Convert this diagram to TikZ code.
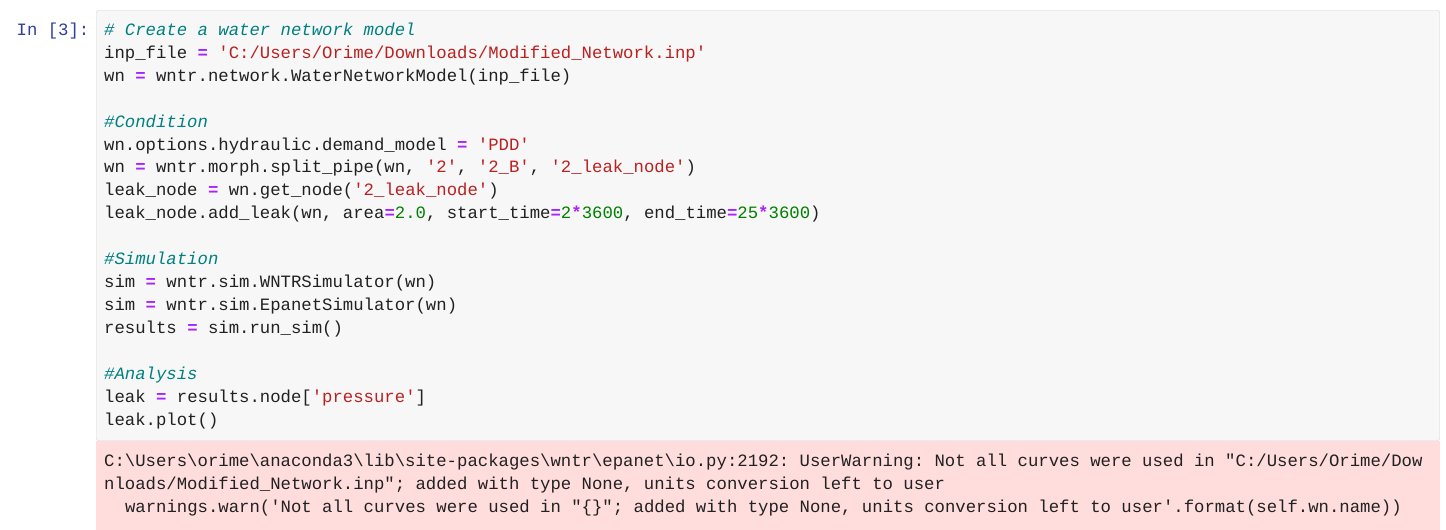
\documentclass[tikz,border=0pt]{standalone}
\usepackage{xcolor}
\usepackage{fontspec}
\usepackage{tikz}
\newfontfamily\codefont{Liberation Mono}
\definecolor{mypromptcolor}{HTML}{303F9F}
\definecolor{mycommentcolor}{HTML}{008080}
\definecolor{mystringcolor}{HTML}{BA2121}
\definecolor{myopcolor}{HTML}{AA22FF}
\definecolor{mynumcolor}{HTML}{008000}
\definecolor{mytextcolor}{HTML}{212121}
\definecolor{mycellcolor}{HTML}{F7F7F7}
\definecolor{mybordercolor}{HTML}{CFCFCF}
\definecolor{myerrorcolor}{HTML}{FFDDDD}
\newcommand{\cmt}[1]{\textcolor{mycommentcolor}{\itshape #1}}
\newcommand{\qstr}[1]{\textcolor{mystringcolor}{#1}}
\newcommand{\oper}[1]{\textcolor{myopcolor}{\bfseries #1}}
\newcommand{\numb}[1]{\textcolor{mynumcolor}{#1}}
\tikzset{codeline/.style={anchor=base west, inner sep=0pt, text=mytextcolor, font=\codefont\frenchspacing\fontsize{17.3}{20}\selectfont}}

\begin{document}
\begin{tikzpicture}[x=1pt, y=-1pt]
\useasboundingbox (0,0) rectangle (1446,530);
\fill[white] (0,0) rectangle (1446,530);
\draw[fill=mycellcolor, draw=mybordercolor, rounded corners=2pt] (96.5,10.5) rectangle (1439.5,440.5);
\fill[myerrorcolor] (96,441) rectangle (1440,530);
\node[codeline, text=mypromptcolor] (prompt) at (16.5,35.5) {In [3]:};
\node[codeline] (line1) at (104,35.5) {\cmt{\# Create a water network model}};
\node[codeline] (line2) at (104,58.5) {inp\_file \oper{=} \qstr{'C:/Users/Orime/Downloads/Modified\_Network.inp'}};
\node[codeline] (line3) at (104,81.5) {wn \oper{=} wntr.network.WaterNetworkModel(inp\_file)};
\node[codeline] (line5) at (104,127) {\cmt{\#Condition}};
\node[codeline] (line6) at (104,150) {wn.options.hydraulic.demand\_model \oper{=} \qstr{'PDD'}};
\node[codeline] (line7) at (104,172.5) {wn \oper{=} wntr.morph.split\_pipe(wn, \qstr{'2'}, \qstr{'2\_B'}, \qstr{'2\_leak\_node'})};
\node[codeline] (line8) at (104,195.5) {leak\_node \oper{=} wn.get\_node(\qstr{'2\_leak\_node'})};
\node[codeline] (line9) at (104,218.5) {leak\_node.add\_leak(wn, area\oper{=}\numb{2.0}, start\_time\oper{=}\numb{2}\oper{*}\numb{3600}, end\_time\oper{=}\numb{25}\oper{*}\numb{3600})};
\node[codeline] (line11) at (104,264.5) {\cmt{\#Simulation}};
\node[codeline] (line12) at (104,287) {sim \oper{=} wntr.sim.WNTRSimulator(wn)};
\node[codeline] (line13) at (104,310) {sim \oper{=} wntr.sim.EpanetSimulator(wn)};
\node[codeline] (line14) at (104,333) {results \oper{=} sim.run\_sim()};
\node[codeline] (line16) at (104,379) {\cmt{\#Analysis}};
\node[codeline] (line17) at (104,402) {leak \oper{=} results.node[\qstr{'pressure'}]};
\node[codeline] (line18) at (104,425) {leak.plot()};
\node[codeline] (err1) at (104,466) {C:\textbackslash{}Users\textbackslash{}orime\textbackslash{}anaconda3\textbackslash{}lib\textbackslash{}site-packages\textbackslash{}wntr\textbackslash{}epanet\textbackslash{}io.py:2192: UserWarning: Not all curves were used in "C:/Users/Orime/Dow};
\node[codeline] (err2) at (104,489) {nloads/Modified\_Network.inp"; added with type None, units conversion left to user};
\node[codeline] (err3) at (124.8,512) {warnings.warn('Not all curves were used in "\{\}"; added with type None, units conversion left to user'.format(self.wn.name))};
\end{tikzpicture}
\end{document}
